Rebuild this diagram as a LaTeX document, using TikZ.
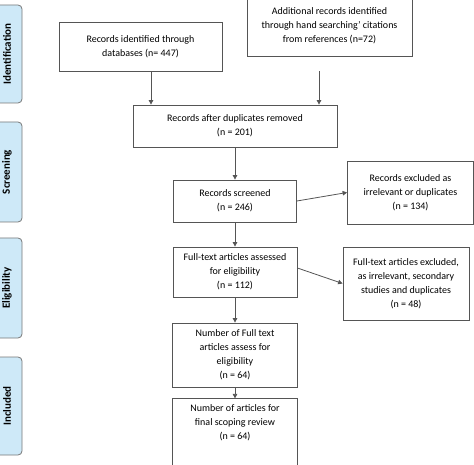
\documentclass[tikz,border=0pt]{standalone}
\usepackage{fontspec}
\setmainfont{Carlito}
\usetikzlibrary{positioning, arrows.meta, calc}

\definecolor{boxline}{RGB}{85,85,85}
\definecolor{stagefill}{RGB}{206,233,248}
\definecolor{stageline}{RGB}{120,120,120}

\begin{document}
\begin{tikzpicture}[on grid, node distance=40pt,
    rec/.style={draw=boxline, line width=0.8pt, align=center, inner sep=3pt,
      font=\fontsize{10}{14}\selectfont},
    stage/.style={draw=stageline, fill=stagefill, rounded corners=4pt, line width=0.8pt,
      minimum width=30pt, rotate=90, font=\fontsize{11}{13}\selectfont\bfseries},
    arr/.style={color=boxline, line width=0.8pt, -{Triangle[length=4.5pt,width=4.5pt]}}]
    \useasboundingbox (0,0) rectangle (474pt,-465pt);
    % stages
    \node[stage, minimum width=98pt, minimum height=30pt] (sid) at (7pt,-54pt) {Identification};
    \node[stage, minimum width=100pt, minimum height=30pt] (sscr) at (7pt,-172pt) {Screening};
    \node[stage, minimum width=100pt, minimum height=30pt] (selig) at (7pt,-288pt) {Eligibility};
    \node[stage, minimum width=98pt, minimum height=30pt] (sinc) at (7pt,-406pt) {Included};
    % boxes
    \node[rec, minimum width=204pt, minimum height=42pt] (dup) at (235pt,-126pt)
        {Records after duplicates removed\\(n = 201)};
    \node[rec, minimum width=163pt, minimum height=49pt] (ident) [above left=79.5pt and 94.5pt of dup]
        {Records identified through\\databases (n= 447)};
    \node[rec, minimum width=165pt, minimum height=60pt] (add) [above right=100pt and 94.5pt of dup]
        {Additional records identified\\through hand searching’ citations\\from references (n=72)};
    \node[rec, minimum width=123pt, minimum height=42pt] (scr) [below=75pt of dup]
        {Records screened\\(n = 246)};
    \node[rec, minimum width=126pt, minimum height=63pt] (excl) [above right=8.5pt and 175.5pt of scr]
        {Records excluded as\\irrelevant or duplicates\\(n = 134)};
    \node[rec, minimum width=124pt, minimum height=50pt] (full) [below=71pt of scr]
        {Full-text articles assessed\\for eligibility\\(n = 112)};
    \node[rec, minimum width=126pt, minimum height=73pt] (fexcl) [below right=11.5pt and 171pt of full]
        {Full-text articles excluded,\\as irrelevant, secondary\\studies and duplicates\\(n = 48)};
    \node[rec, minimum width=125pt, minimum height=64pt] (num) [below=83pt of full]
        {Number of Full text\\articles assess for\\eligibility\\(n = 64)};
    \node[rec, minimum width=125pt, anchor=north, inner ysep=6pt, text depth=49pt] (final)
        at ([yshift=-11pt]num.south) {Number of articles for\\final scoping review\\(n = 64)};
    % arrows
    \path[arr]
        ([xshift=-84pt]dup.north |- ident.south) edge ([xshift=-84pt]dup.north)
        ([xshift=84pt]dup.north |- ident.south) edge ([xshift=84pt]dup.north)
        (dup) edge (scr)
        (scr) edge (full)
        (full) edge (num)
        (num) edge (final)
        (scr.east) edge (excl.west)
        ([yshift=4pt]full.east) edge (fexcl.west);
\end{tikzpicture}
\end{document}
